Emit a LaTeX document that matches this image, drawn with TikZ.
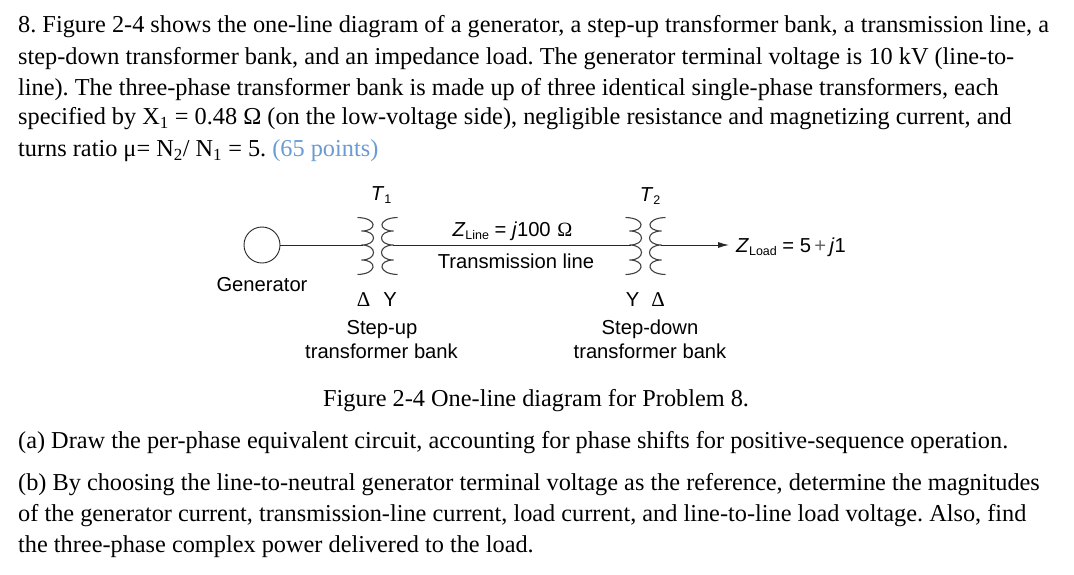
\documentclass[tikz,border=0pt]{standalone}
\usepackage{fontspec}
\setmainfont{Liberation Serif}
\newfontfamily\labelfont{Liberation Sans}
\usetikzlibrary{arrows.meta}
\definecolor{pointsblue}{HTML}{6A9BD2}
\tikzset{
	body/.style={anchor=base west, inner sep=0pt, font=\frenchspacing\fontsize{24.3}{28}\selectfont},
	label/.style={anchor=base, inner sep=0pt, font=\labelfont\fontsize{20.2}{24}\selectfont},
	delta/.style={anchor=base, inner sep=0pt, font=\rmfamily\fontsize{21}{24}\selectfont},
	coilline/.style={line width=1.1pt, black!75},
	wire/.style={line width=0.9pt, black!85}
}
\newcommand{\lowsub}[1]{\raisebox{-3pt}{\fontsize{12.5}{14}\selectfont #1}}
\begin{document}
\begin{tikzpicture}[x=1pt, y=-1pt]
	\useasboundingbox (0,0) rectangle (1074,574);
	\fill[white] (0,0) rectangle (1074,574);

	% problem text
	\node[body] (line1) at (18,32.5) {8. Figure 2-4 shows the one-line diagram of a generator, a step-up transformer bank, a transmission line, a};
	\node[body] (line2) at (18,64) {step-down transformer bank, and an impedance load. The generator terminal voltage is 10 kV (line-to-};
	\node[body] (line3) at (18,95) {line). The three-phase transformer bank is made up of three identical single-phase transformers, each};
	\node[body] (line4) at (18,124.5) {specified by X\textsubscript{1} = 0.48 Ω (on the low-voltage side), negligible resistance and magnetizing current, and};
	\node[body] (line5) at (18,156.5) {turns ratio μ= N\textsubscript{2}/ N\textsubscript{1} = 5. \textcolor{pointsblue}{(65 points)}};

	% one-line diagram
	\node[circle, draw, line width=0.9pt, black!85, minimum size=36pt, inner sep=0pt] (gen) at (262,245) {};
	\coordinate (t1p) at (363,245);
	\coordinate (t1s) at (393,245);
	\coordinate (t2p) at (631,245);
	\coordinate (t2s) at (661,245);
	\coordinate (load) at (729,245);

	\foreach \x/\s in {357.5/1, 397.5/-1, 625.5/1, 665.5/-1}
	{
		\draw[coilline] (\x,217.5)
			.. controls (\x+\s*20,218) and (\x+\s*20,231) .. (\x+\s*4,231)
			.. controls (\x+\s*20,231) and (\x+\s*20,245) .. (\x+\s*4,245)
			.. controls (\x+\s*20,245) and (\x+\s*20,260) .. (\x+\s*4,260)
			.. controls (\x+\s*20,260) and (\x+\s*20,274) .. (\x,274.5);
	};
	\draw[wire] (gen) -- (t1p);
	\draw[wire] (t1s) -- (t2p);
	\draw[wire, -{Latex[length=11pt,width=6pt]}] (t2s) -- (load);

	\node[label] (t1) at (381,200) {\textit{T}\lowsub{1}};
	\node[label] (t2) at (650,201) {\textit{T}\lowsub{2}};
	\node[label] (zline) at (512.5,236) {\textit{Z}\lowsub{Line} = \textit{j}100\,\,{\rmfamily Ω}};
	\node[label] (tline) at (516,268) {Transmission line};
	\node[label] (zload) at (791,252) {\textit{Z}\lowsub{Load} = 5\,{\color{black!60}+}\,\textit{j}1};
	\node[label] (gname) at (262,291) {Generator};
	\node[delta] (delta1) at (363.5,306) {Δ};
	\node[label] (wye1) at (390,306) {Y};
	\node[label] (wye2) at (632.5,306) {Y};
	\node[delta] (delta2) at (658,306) {Δ};
	\node[label] (up1) at (382,334) {Step-up};
	\node[label] (up2) at (381.5,358) {transformer bank};
	\node[label] (down1) at (650,334) {Step-down};
	\node[label] (down2) at (650,358) {transformer bank};

	% parts of the problem
	\node[body] (caption) at (323,406.5) {Figure 2-4 One-line diagram for Problem 8.};
	\node[body] (parta) at (18,448.5) {(a) Draw the per-phase equivalent circuit, accounting for phase shifts for positive-sequence operation.};
	\node[body] (partb1) at (18,490.5) {(b) By choosing the line-to-neutral generator terminal voltage as the reference, determine the magnitudes};
	\node[body] (partb2) at (18,521.5) {of the generator current, transmission-line current, load current, and line-to-line load voltage. Also, find};
	\node[body] (partb3) at (18,552.5) {the three-phase complex power delivered to the load.};
\end{tikzpicture}
\end{document}
